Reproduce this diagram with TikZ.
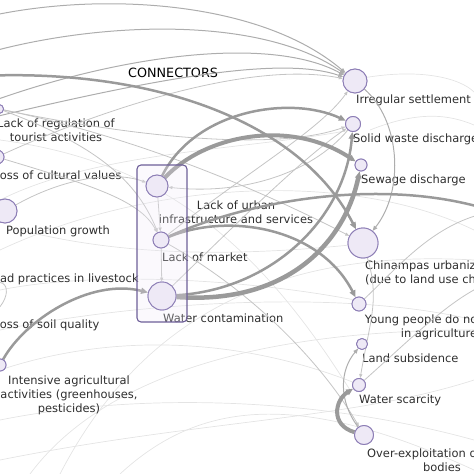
\documentclass[tikz,border=0pt]{standalone}
\usepackage{fontspec}
\setmainfont{DejaVu Sans}
\usetikzlibrary{arrows.meta}
\definecolor{nfill}{HTML}{EEE9F6}
\definecolor{ndraw}{HTML}{8C7DB5}
\definecolor{boxc}{HTML}{6E5F99}
\definecolor{ed}{HTML}{9A9A9A}
\definecolor{edm}{HTML}{ADADAD}
\definecolor{edl}{HTML}{C4C4C4}
\definecolor{edf}{HTML}{E4E4E4}
\definecolor{txt}{HTML}{2E2E2E}
\begin{document}
\begin{tikzpicture}[x=1bp,y=-1bp,
  vtx/.style={circle,draw=ndraw,fill=nfill,line width=0.9bp,inner sep=0pt,minimum size=#1},
  lbl/.style={text=txt,font=\fontsize{11.5}{14}\selectfont,inner sep=0pt},
  heavy/.style={draw=ed,line width=#1,-{Triangle[length=7bp,width=6bp]}},
  mid/.style={draw=edm,line width=1bp,-{Triangle[length=5bp,width=4bp]}},
  weak/.style={draw=edl,line width=0.8bp,-{Triangle[length=4bp,width=3bp]}},
  faint/.style={draw=edf,line width=0.7bp},
]
\useasboundingbox (0,0) rectangle (474,474);
\clip (0,0) rectangle (474,474);

% ---------- faint background arcs ----------
\draw[faint] (0,250) .. controls (150,180) and (350,170) .. (474,230);
\draw[faint] (0,330) .. controls (150,300) and (350,290) .. (474,320);
\draw[faint] (0,420) .. controls (150,390) and (330,400) .. (474,440);
\draw[faint] (0,460) .. controls (200,420) and (350,420) .. (474,380);
\draw[faint] (30,474) .. controls (100,380) and (250,330) .. (474,330);
\draw[faint] (120,474) .. controls (200,400) and (300,390) .. (474,470);
\draw[faint] (0,370) .. controls (120,330) and (250,340) .. (360,385);
\draw[faint] (0,200) .. controls (100,150) and (250,150) .. (350,130);
\draw[faint] (20,230) .. controls (100,250) and (200,260) .. (350,245);
\draw[faint] (363,78) .. controls (420,68) and (460,78) .. (474,92);
\draw[faint] (370,130) .. controls (420,110) and (450,115) .. (474,125);
\draw[faint] (0,290) .. controls (100,270) and (250,280) .. (355,300);
\draw[faint] (60,474) .. controls (150,300) and (300,250) .. (474,260);
\draw[faint] (0,140) .. controls (150,160) and (250,230) .. (350,390);

% ---------- labels ----------
\node[lbl,font=\fontsize{12.8}{15}\selectfont,text=black,anchor=west] (tcon) at (128,73) {CONNECTORS};
\node[lbl,anchor=west] (tirr) at (356,100) {Irregular settlement};
\node[lbl,anchor=west] (tsol) at (353,139) {Solid waste discharge};
\node[lbl,anchor=west] (tsew) at (361,180) {Sewage discharge};
\node[lbl,anchor=west,align=left] (tchi) at (365,273.5) {Chinampas urbanization\\(due to land use change)};
\node[lbl,align=center] (tyou) at (439,327.5) {Young people do not work\\in agriculture};
\node[lbl,anchor=west] (tlan) at (362,358) {Land subsidence};
\node[lbl,anchor=west] (twsc) at (359,400) {Water scarcity};
\node[lbl,align=center] (tove) at (442,460.5) {Over-exploitation of water\\bodies};
\node[lbl,align=center] (tlui) at (236,212) {Lack of urban\\infrastructure and services};
\node[lbl,anchor=west] (tlmk) at (162,257) {Lack of market};
\node[lbl,anchor=west] (twco) at (163,318) {Water contamination};
\node[lbl,align=center] (tlrt) at (56,130) {Lack of regulation of\\tourist activities};
\node[lbl,anchor=west] (tlcv) at (-6.5,175) {Loss of cultural values};
\node[lbl,anchor=west] (tpop) at (6,231) {Population growth};
\node[lbl,anchor=west] (tbpl) at (-8,279) {Bad practices in livestock};
\node[lbl,anchor=west] (tlsq) at (-6.5,325) {Loss of soil quality};
\node[lbl,align=center] (tiaa) at (69,395) {Intensive agricultural\\activities (greenhouses,\\pesticides)};

% ---------- vertices (anchors for the connectors) ----------
\node[vtx=24bp] (irr) at (355,81) {};
\node[vtx=15bp] (sol) at (353,124) {};
\node[vtx=12bp] (sew) at (361,165) {};
\node[vtx=30bp] (chi) at (363,243) {};
\node[vtx=14bp] (you) at (359,304) {};
\node[vtx=11bp] (lan) at (362,344) {};
\node[vtx=13bp] (wsc) at (359,385) {};
\node[vtx=19bp] (ove) at (364,435) {};
\node[vtx=22bp] (lui) at (157,186) {};
\node[vtx=16bp] (lmk) at (161,240) {};
\node[vtx=28bp] (wco) at (162,296) {};
\node[vtx=9bp]  (lrt) at (-1,109) {};
\node[vtx=14bp] (lcv) at (-3,157) {};
\node[vtx=24bp] (pop) at (5,211) {};
\node[vtx=12bp] (iaa) at (0,365) {};
\coordinate (bpl) at (-14,288);
\coordinate (lsq) at (-14,318);
\coordinate (t1) at (-10,16);
\coordinate (t2) at (-10,52);
\coordinate (t3) at (-10,102);
\coordinate (t4) at (-10,118);
\coordinate (tk) at (-20,76);
\coordinate (r1) at (490,212);
\coordinate (r2) at (490,210);
\coordinate (r3) at (490,282);

% ---------- thin edges ----------
\draw[mid] (t1) .. controls (100,-8) and (260,0) .. (irr);
\draw[mid] (t2) .. controls (100,22) and (260,15) .. (irr);
\draw[mid] (t3) .. controls (120,55) and (270,35) .. (irr);
\draw[mid] (t4) .. controls (150,80) and (280,55) .. (irr);
\draw[weak] (lcv) .. controls (100,110) and (250,60) .. (irr);
\draw[weak] (lrt) .. controls (150,140) and (280,150) .. (sol);
\draw[weak] (lrt) .. controls (150,140) and (280,200) .. (chi);
\draw[weak] (lrt) .. controls (110,150) and (140,190) .. (lmk);
\draw[weak] (lcv) .. controls (90,185) and (140,200) .. (lmk);
\draw[weak] (sol) .. controls (310,175) and (240,195) .. (lui);
\draw[weak] (lmk) .. controls (250,170) and (320,130) .. (irr);
\draw[weak] (wco) .. controls (230,230) and (300,160) .. (sol);
\draw[mid] (irr) .. controls (400,120) and (405,190) .. (chi);
\draw[weak] (you) .. controls (400,265) and (433,225) .. (r1);
\draw[weak] (wsc) .. controls (417,333) and (450,300) .. (r3);
\draw[weak] (lmk) .. controls (250,290) and (320,360) .. (ove);
\draw[weak] (lui) -- (lmk);
\draw[weak] (lmk) -- (wco);
\draw[weak] (pop) .. controls (60,180) and (110,170) .. (lui);
\draw[weak] (bpl) .. controls (10,270) and (15,300) .. (lsq);
\draw[weak] (chi) .. controls (380,300) and (370,320) .. (wsc);
\draw[mid] (ove) .. controls (338,400) and (340,370) .. (lan);

% ---------- heavy edges ----------
\draw[heavy=2.5bp] (tk) .. controls (150,68) and (300,120) .. (chi);
\draw[heavy=2.5bp] (lui) .. controls (195,110) and (290,95) .. (sol);
\draw[heavy=4bp] (lui) .. controls (205,135) and (290,118) .. (sew);
\draw[heavy=2.5bp] (wco) .. controls (270,290) and (345,220) .. (sol);
\draw[heavy=4.5bp] (wco) .. controls (290,305) and (345,240) .. (sew);
\draw[heavy=2.5bp] (lmk) .. controls (230,212) and (320,228) .. (you);
\draw[heavy=2.5bp] (lmk) .. controls (250,200) and (380,178) .. (r2);
\draw[heavy=2.5bp] (iaa) .. controls (25,320) and (90,278) .. (wco);
\draw[heavy=4bp] (ove) .. controls (330,425) and (335,400) .. (wsc);

% ---------- group box ----------
\node[draw=boxc,fill=nfill,fill opacity=0.25,line width=1.1bp,rounded corners=4bp,
      minimum width=50bp,minimum height=157bp,inner sep=0pt] (grp) at (162,243.5) {};

% vertices drawn again above the connectors
\foreach \n/\s/\p in {irr/24/{(355,81)},sol/15/{(353,124)},sew/12/{(361,165)},chi/30/{(363,243)},
  you/14/{(359,304)},lan/11/{(362,344)},wsc/13/{(359,385)},ove/19/{(364,435)},
  lui/22/{(157,186)},lmk/16/{(161,240)},wco/28/{(162,296)},lrt/9/{(-1,109)},
  lcv/14/{(-3,157)},pop/24/{(5,211)},iaa/12/{(0,365)}}
  \node[vtx=\s bp] (v\n) at \p {};
\end{tikzpicture}
\end{document}
